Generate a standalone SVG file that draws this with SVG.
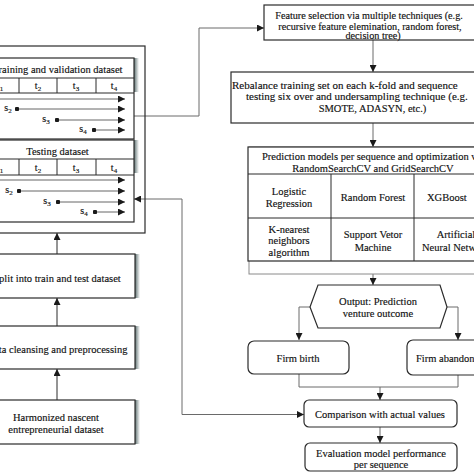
<svg xmlns="http://www.w3.org/2000/svg" width="474" height="474" viewBox="0 0 474 474" font-family="'Liberation Serif', 'DejaVu Serif', serif">
<style>
text{font-family:'Liberation Serif','DejaVu Serif',serif;font-size:10.5px;fill:#111;stroke:#111;stroke-width:0.15}
.c{text-anchor:middle}
.box{fill:#fff;stroke:#2b2b2b;stroke-width:1.2}
.lbox{fill:none;stroke:#8a8a8a;stroke-width:1}
.ln{fill:none;stroke:#2b2b2b;stroke-width:1}
.cn{fill:none;stroke:#6a6a6a;stroke-width:1}
.sr{fill:none;stroke:#555;stroke-width:0.9}
.sub{font-size:10px}
.fs{font-size:10.2px}
.rb{font-size:11px}
</style>
<defs>
<marker id="ah" viewBox="0 0 8 8" refX="8" refY="4" markerWidth="7" markerHeight="7" markerUnits="userSpaceOnUse" orient="auto">
<path d="M0,0 L8,4 L0,8 z" fill="#1a1a1a"/>
</marker>
<marker id="dot" viewBox="0 0 6 6" refX="3" refY="3" markerWidth="4.5" markerHeight="4.5" markerUnits="userSpaceOnUse">
<circle cx="3" cy="3" r="3" fill="#1a1a1a"/>
</marker>
<linearGradient id="sh" x1="0" y1="0" x2="1" y2="0">
<stop offset="0" stop-color="#5f7272"/>
<stop offset="1" stop-color="#5f7272" stop-opacity="0"/>
</linearGradient>
</defs>

<g id="connectors">
<line class="ln" x1="57" y1="400" x2="57" y2="369" marker-end="url(#ah)"/>
<line class="ln" x1="57" y1="326" x2="57" y2="298" marker-end="url(#ah)"/>
<line class="ln" x1="57" y1="254" x2="57" y2="233" marker-end="url(#ah)"/>
<polyline class="cn" points="134,116 199,116 199,28 264,28" marker-end="url(#ah)"/>
<polyline class="cn" points="300,414.5 182,414.5 182,199 134,199" marker-end="url(#ah)"/>
<line class="cn" x1="190" y1="414.5" x2="304" y2="414.5" marker-end="url(#ah)"/>
<line class="cn" x1="373" y1="40" x2="373" y2="72" marker-end="url(#ah)"/>
<line class="cn" x1="373" y1="123" x2="373" y2="147" marker-end="url(#ah)"/>
<line class="cn" x1="373" y1="274" x2="373" y2="285" marker-end="url(#ah)"/>
<polyline class="cn" points="310,307 299,307 299,340" marker-end="url(#ah)"/>
<polyline class="cn" points="447,307 458,307 458,340" marker-end="url(#ah)"/>
<polyline class="cn" points="299,374 299,387 458,387 458,375"/>
<line class="cn" x1="380" y1="387" x2="380" y2="400" marker-end="url(#ah)"/>
<line class="cn" x1="380" y1="427" x2="380" y2="443" marker-end="url(#ah)"/>
</g>

<g id="datasets">
<rect x="-30" y="46" width="175" height="187" fill="none" stroke="#2b2b2b" stroke-width="1.2"/>
</g>

<g id="training">
<rect x="134" y="58" width="5" height="34" fill="url(#sh)"/>
<rect class="box" x="-19" y="58" width="153" height="81"/>
<line class="ln" x1="-19" y1="78" x2="134" y2="78"/>
<line class="ln" x1="-19" y1="93" x2="134" y2="93"/>
<line class="ln" x1="19" y1="78" x2="19" y2="93"/>
<line class="ln" x1="57" y1="78" x2="57" y2="93"/>
<line class="ln" x1="96" y1="78" x2="96" y2="93"/>
<text class="c" x="57.5" y="72.5">Training and validation dataset</text>
<text class="c sub" x="0" y="89">t<tspan font-size="7" dy="2">1</tspan></text>
<text class="c sub" x="38" y="89">t<tspan font-size="7" dy="2">2</tspan></text>
<text class="c sub" x="76" y="89">t<tspan font-size="7" dy="2">3</tspan></text>
<text class="c sub" x="114" y="89">t<tspan font-size="7" dy="2">4</tspan></text>
<line class="sr" x1="-19" y1="99" x2="125" y2="99" marker-end="url(#ah)"/>
<line class="sr" x1="17" y1="109" x2="125" y2="109" marker-start="url(#dot)" marker-end="url(#ah)"/>
<line class="sr" x1="57" y1="120" x2="125" y2="120" marker-start="url(#dot)" marker-end="url(#ah)"/>
<line class="sr" x1="94" y1="130" x2="125" y2="130" marker-start="url(#dot)" marker-end="url(#ah)"/>
<text class="c sub" x="8" y="111">s<tspan font-size="7" dy="2">2</tspan></text>
<text class="c sub" x="46" y="122">s<tspan font-size="7" dy="2">3</tspan></text>
<text class="c sub" x="83" y="132">s<tspan font-size="7" dy="2">4</tspan></text>
</g>

<g id="testing">
<rect x="134" y="140" width="5" height="33" fill="url(#sh)"/>
<rect class="box" x="-19" y="140" width="153" height="82"/>
<line class="ln" x1="-19" y1="159" x2="134" y2="159"/>
<line class="ln" x1="-19" y1="175" x2="134" y2="175"/>
<line class="ln" x1="19" y1="159" x2="19" y2="175"/>
<line class="ln" x1="57" y1="159" x2="57" y2="175"/>
<line class="ln" x1="96" y1="159" x2="96" y2="175"/>
<text class="c" x="57.5" y="155">Testing dataset</text>
<text class="c sub" x="0" y="171">t<tspan font-size="7" dy="2">1</tspan></text>
<text class="c sub" x="38" y="171">t<tspan font-size="7" dy="2">2</tspan></text>
<text class="c sub" x="76" y="171">t<tspan font-size="7" dy="2">3</tspan></text>
<text class="c sub" x="114" y="171">t<tspan font-size="7" dy="2">4</tspan></text>
<line class="sr" x1="-19" y1="180" x2="125" y2="180" marker-end="url(#ah)"/>
<line class="sr" x1="19" y1="191" x2="125" y2="191" marker-start="url(#dot)" marker-end="url(#ah)"/>
<line class="sr" x1="58" y1="202" x2="125" y2="202" marker-start="url(#dot)" marker-end="url(#ah)"/>
<line class="sr" x1="95" y1="212" x2="125" y2="212" marker-start="url(#dot)" marker-end="url(#ah)"/>
<text class="c sub" x="9" y="193">s<tspan font-size="7" dy="2">2</tspan></text>
<text class="c sub" x="47" y="204">s<tspan font-size="7" dy="2">3</tspan></text>
<text class="c sub" x="84" y="214">s<tspan font-size="7" dy="2">4</tspan></text>
</g>

<g id="split">
<rect x="135" y="254" width="5" height="44" fill="url(#sh)"/>
<rect class="box" x="-21" y="254" width="156" height="44"/>
<text class="c" x="57" y="281.5">Split into train and test dataset</text>
</g>

<g id="cleansing">
<rect x="135" y="326" width="5" height="43" fill="url(#sh)"/>
<rect class="box" x="-21" y="326" width="156" height="43"/>
<text class="c" x="57" y="352.5">Data cleansing and preprocessing</text>
</g>

<g id="harmonized">
<rect x="135" y="400" width="5" height="44" fill="url(#sh)"/>
<rect class="box" x="-21" y="400" width="156" height="44"/>
<text class="c" x="56" y="420.5">Harmonized nascent</text>
<text class="c" x="56" y="432.5">entrepreneurial dataset</text>
</g>

<g id="feature">
<rect class="box" x="264" y="5" width="230" height="35"/>
<text class="c fs" x="369" y="18.5">Feature selection via multiple techniques (e.g.</text>
<text class="c fs" x="370" y="29.5">recursive feature elemination, random forest,</text>
<text class="c fs" x="373" y="39">decision tree)</text>
</g>

<g id="rebalance">
<rect class="box" x="231" y="72" width="260" height="51"/>
<text class="rb" x="232" y="88.5">Rebalance training set on each k-fold and sequence</text>
<text class="rb" x="246" y="100">testing six over and undersampling technique (e.g.</text>
<text class="c" x="372.5" y="111.5">SMOTE, ADASYN, etc.)</text>
</g>

<g id="prediction">
<rect class="lbox" x="249" y="147" width="250" height="127"/>
<rect class="box" x="248" y="147" width="250" height="114"/>
<line class="ln" x1="248" y1="174" x2="498" y2="174"/>
<line class="ln" x1="248" y1="218" x2="498" y2="218"/>
<line class="ln" x1="331" y1="174" x2="331" y2="261"/>
<line class="ln" x1="414" y1="174" x2="414" y2="261"/>
<text x="262" y="159.5">Prediction models per sequence and optimization via</text>
<text class="c" x="373" y="171.5">RandomSearchCV and GridSearchCV</text>
<text class="c" x="289" y="194.5">Logistic</text>
<text class="c" x="289" y="206.5">Regression</text>
<text class="c" x="373" y="200.5">Random Forest</text>
<text x="427" y="200.5">XGBoost</text>
<text class="c" x="289" y="232.5">K-nearest</text>
<text class="c" x="289" y="244">neighbors</text>
<text class="c" x="289" y="255.5">algorithm</text>
<text class="c" x="373" y="237.5">Support Vetor</text>
<text class="c" x="373" y="250.5">Machine</text>
<text class="c" x="456" y="237.5">Artificial</text>
<text class="c" x="456" y="250.5">Neural Network</text>
</g>

<g id="output">
<polygon class="box" points="318,285 440,285 447,307 440,328 318,328 310,307"/>
<text class="c" x="378" y="305">Output: Prediction</text>
<text class="c" x="378" y="316.5">venture outcome</text>
</g>

<g id="firm-birth">
<rect class="box" x="248" y="341" width="101" height="33" rx="6"/>
<text class="c" x="298" y="361.5">Firm birth</text>
</g>

<g id="firm-abandon">
<rect class="box" x="407" y="340" width="100" height="35" rx="6"/>
<text x="416" y="361.5">Firm abandonment</text>
</g>

<g id="comparison">
<rect class="box" x="304" y="400" width="153" height="27" rx="5"/>
<text class="c" x="380" y="417.5">Comparison with actual values</text>
</g>

<g id="evaluation">
<rect class="box" x="305" y="443" width="152" height="28" rx="5"/>
<text class="c" x="381" y="456.5">Evaluation model performance</text>
<text class="c" x="381" y="468">per sequence</text>
</g>
</svg>
